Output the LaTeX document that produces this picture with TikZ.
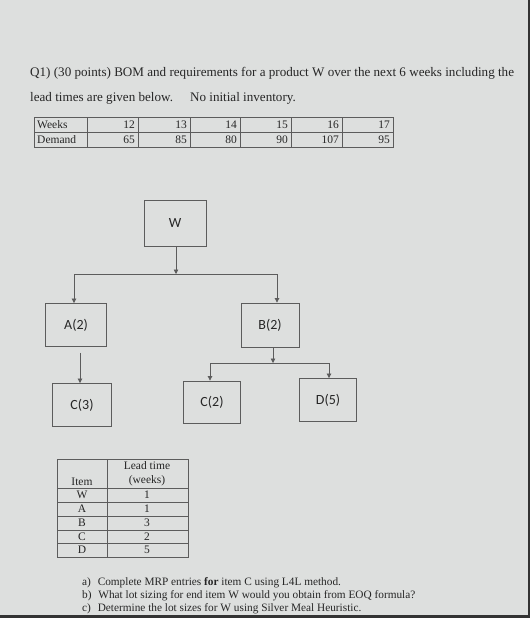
\documentclass[tikz,border=0pt]{standalone}
\usepackage{fontspec}
\setmainfont{Liberation Serif}
\newfontfamily\carlito{Carlito}
\usetikzlibrary{arrows.meta,positioning,calc}

\definecolor{paper}{HTML}{DDDFDE}
\definecolor{ink}{HTML}{262626}
\definecolor{rule}{HTML}{5C5C5C}

\tikzset{
  bomitem/.style={draw=rule, line width=0.8pt, inner sep=0pt, minimum width=59pt,
    minimum height=43pt, text=ink, font=\carlito\fontsize{14}{14}\selectfont},
  link/.style={draw=rule, line width=0.7pt},
  linkarrow/.style={link, -{Triangle[length=4.5pt,width=4.5pt]}},
  grid/.style={draw=rule, line width=0.6pt},
  cell/.style={inner sep=0pt, text=ink, font=\fontsize{11.5}{12}\selectfont},
  prose/.style={inner sep=0pt, anchor=base west, text=ink, font=\fontsize{13.1}{14}\selectfont},
  task/.style={prose, font=\fontsize{11.3}{12}\selectfont},
}

\begin{document}
\begin{tikzpicture}[x=1pt,y=-1pt]
    % page
    \fill[paper] (0,0) rectangle (530,618);
    \useasboundingbox (0,0) rectangle (530,618);
    \fill[black!80] (0,615) rectangle (530,618);
    \fill[black!80] (528,0) rectangle (530,618);

    % question
    \node[prose] (q1) at (30,77) {Q1) (30 points) BOM and requirements for a product W over the next 6 weeks including the};
    \node[prose] (q2) at (30,101) {lead times are given below.\hspace{1.3em}No initial inventory.};

    % demand table
    \draw[grid] (34,117) rectangle (393,147);
    \draw[grid] (34,132) -- (393,132);
    \foreach \xb in {87,138,190,240,291,342}
      \draw[grid] (\xb,117) -- (\xb,147);
    \node[cell, anchor=west] (weeks) at (37,125) {Weeks};
    \node[cell, anchor=west] (demand) at (37,140) {Demand};
    \foreach \xb/\wk/\dm in {138/12/65,190/13/85,240/14/80,291/15/90,342/16/107,393/17/95} {
      \node[cell, anchor=east] (wk\wk) at (\xb-3,125) {\wk};
      \node[cell, anchor=east] (dm\wk) at (\xb-3,140) {\dm};
    }

    % product structure
    \node[bomitem, minimum width=62pt, minimum height=46pt] (W) at (175,223) {W};
    \node[bomitem, minimum width=61pt] (A) at (76,325) {A(2)};
    \node[bomitem, minimum width=58pt, minimum height=44pt] (B) at (270,325) {B(2)};
    \node[bomitem] (C3) at (82,405) {C(3)};
    \node[bomitem, minimum width=57pt, minimum height=42pt] (C2) at (212,402) {C(2)};
    \node[bomitem, minimum width=57pt] (D) at (328,400) {D(5)};

    \coordinate (jW) at (176,274);
    \coordinate (jA) at (74,274);
    \coordinate (jB) at (277,274);
    \coordinate (kB) at (273,363);
    \coordinate (kC) at (210,363);
    \coordinate (kD) at (329,363);

    \draw[linkarrow] (W.south -| jW) -- (jW);
    \draw[link] (jA) -- (jB);
    \draw[linkarrow] (jA) -- (jA |- A.north);
    \draw[linkarrow] (jB) -- (jB |- B.north);
    \draw[linkarrow] ([shift={(4,6)}]A.south) -- ([xshift=4pt]A.south |- C3.north);
    \draw[linkarrow] (B.south -| kB) -- (kB);
    \draw[link] (kC) -- (kD);
    \draw[linkarrow] (kC) -- (kC |- C2.north);
    \draw[linkarrow] (kD) -- (kD |- D.north);

    % lead times
    \draw[grid] (57,459) rectangle (188,557);
    \draw[grid] (107,459) -- (107,557);
    \foreach \yb in {488,502,516,530,543}
      \draw[grid] (57,\yb) -- (188,\yb);
    \node[cell] (hitem) at (82,482) {Item};
    \node[cell] (hlead) at (147,466) {Lead time};
    \node[cell] (hweeks) at (147,481) {(weeks)};
    \foreach \it/\lt/\yc in {W/1/495,A/1/509,B/3/523,C/2/536.5,D/5/550} {
      \node[cell] (it\it) at (82,\yc) {\it};
      \node[cell] (lt\it) at (147,\yc) {\lt};
    }

    % tasks
    \node[task] (ta) at (82,585) {a)\hspace{0.6em}Complete MRP entries \textbf{for} item C using L4L method.};
    \node[task] (tb) at (82,598.5) {b)\hspace{0.6em}What lot sizing for end item W would you obtain from EOQ formula?};
    \node[task] (tc) at (82,611.5) {c)\hspace{0.6em}Determine the lot sizes for W using Silver Meal Heuristic.};
\end{tikzpicture}
\end{document}
